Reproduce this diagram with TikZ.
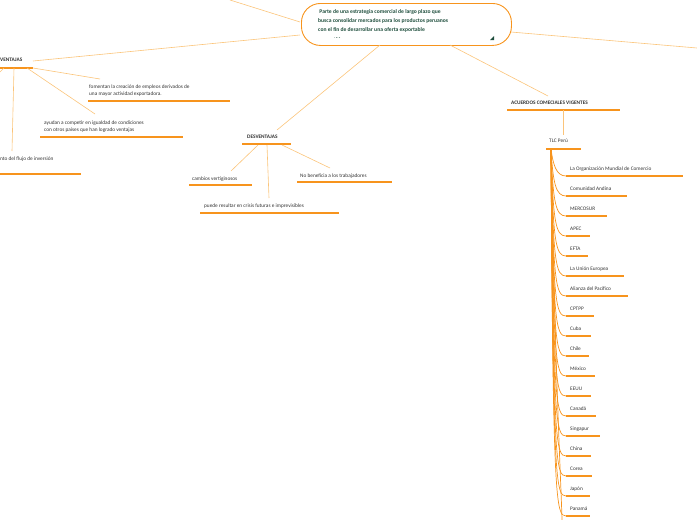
\documentclass[tikz,border=0pt]{standalone}
\usepackage{fontspec}
\setmainfont{Carlito}
\definecolor{ul}{HTML}{F7941D}
\definecolor{cn}{HTML}{FBC47A}
\definecolor{tx}{HTML}{333333}
\definecolor{gr}{HTML}{1F4E3D}
\begin{document}
\begin{tikzpicture}[x=1pt,y=-1pt,
  lbl/.style={anchor=west,inner sep=0pt,font=\fontsize{5.3}{7}\selectfont,text=tx,align=left},
  bl/.style={lbl,font=\fontsize{5.3}{7}\selectfont\bfseries},
  und/.style={draw=ul,line width=1.1pt},
  con/.style={draw=cn,line width=0.6pt},
  spn/.style={draw=ul,line width=0.7pt}]
\useasboundingbox (0,0) rectangle (697,520);
% central
\node[draw=ul,line width=0.9pt,rounded corners=19pt,minimum width=210pt,minimum height=42pt,anchor=north west] (c) at (301,3) {};
\begin{scope}
\clip (302,4) rectangle (510,37);
\node[anchor=north west,inner sep=0pt,text=gr,align=left,font=\fontsize{5.6}{9.3}\selectfont\bfseries] (ct) at (318,9) {\ Parte de una estrategia comercial de largo plazo que\\busca consolidar mercados para los productos peruanos\\con el fin de desarrollar una oferta exportable\\competitiva};
\end{scope}
\fill[gr] (494,36) -- (494,40) -- (490,40) -- cycle;
\coordinate (top) at (230,0); \coordinate (rt) at (697,48);
\draw[con] (top) -- (300,22);
\draw[con] (511,32) -- (rt);
% ventajas
\node[bl] (v) at (0,60) {VENTAJAS};
\draw[und] (0,68) -- (33,68);
\draw[con] (300,35) -- (33,61);
\node[lbl] (v1) at (89,91) {fomentan la creación de empleos derivados de\\una mayor actividad exportadora.};
\draw[und] (88,101) -- (230,101);
\node[lbl] (v2) at (44,127) {ayudan a competir en igualdad de condiciones\\con otros países que han logrado ventajas};
\draw[und] (40,137) -- (183,137);
\node[lbl] (v3) at (0,159) {nto del flujo de inversión};
\draw[und] (0,174) -- (81,174);
\coordinate (lf) at (0,72);
\draw[con] (33,68) -- (100,79);
\draw[con] (27,68) -- (95,114);
\draw[con] (14,68) -- (12,151);
\draw[con] (4,68) -- (lf);
% desventajas
\node[bl] (d) at (247,137) {DESVENTAJAS};
\draw[und] (242,144) -- (291,144);
\draw[con] (380,45) -- (277,130);
\node[lbl] (d1) at (192,179) {cambios vertiginosos};
\draw[und] (189,185) -- (252,185);
\node[lbl] (d2) at (204,206) {puede resultar en crisis futuras e imprevisibles};
\draw[und] (200,213) -- (339,213);
\node[lbl] (d3) at (300,176) {No beneficia a los trabajadores};
\draw[und] (297,182) -- (392,182);
\draw[con] (258,145) -- (231,171);
\draw[con] (267,145) -- (269,198);
\draw[con] (282,145) -- (330,168);
% acuerdos
\node[bl] (a) at (511,103) {ACUERDOS COMECIALES VIGENTES};
\draw[und] (507,110) -- (620,110);
\draw[con] (450,45) -- (548,96);
\draw[con] (563,110) -- (563,135);
\node[lbl] (t) at (549,141) {TLC Perú};
\draw[und] (546,149) -- (581,149);
\foreach \i/\t/\e [count=\k from 0] in {
 {La Organización Mundial de Comercio}/683, {Comunidad Andina}/627, {MERCOSUR}/607, {APEC}/590, {EFTA}/588,
 {La Unión Europea}/624, {Alianza del Pacífico}/628, {CPTPP}/594, { Cuba}/591, {Chile}/589, {México}/595,
 {EEUU}/591, {Canadá}/596, {Singapur}/600, {China}/591, {Corea}/592, {Japón}/590, {Panamá}/590}{
  \pgfmathsetmacro\yy{169+20*\k}
  \node[lbl] (i\k) at (570,\yy) {\i};
  \draw[und] (566,\yy+7) -- (\t,\yy+7);
  \draw[spn] (551,149) .. controls (553,\yy-5) and (556,\yy+7) .. (566,\yy+7);
}
\draw[spn] (551,149) .. controls (556,400) and (561,480) .. (562,520);
\end{tikzpicture}
\end{document}
